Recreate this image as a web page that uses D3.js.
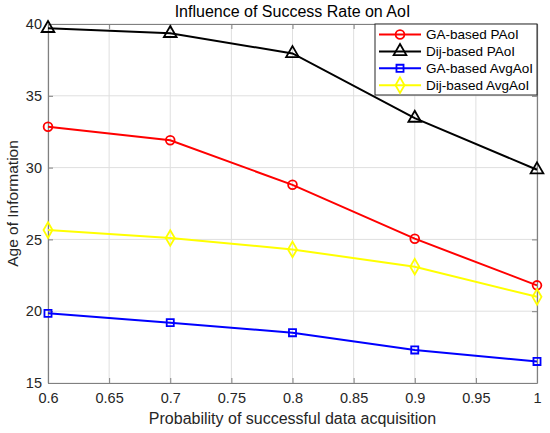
<!DOCTYPE html>
<html>
<head>
<meta charset="utf-8">
<script src="https://cdn.jsdelivr.net/npm/d3@7"></script>
<style>
  body { margin: 0; background: #fff; }
  svg { font-family: "Liberation Sans", Arial, sans-serif; }
</style>
</head>
<body>
<svg id="chart" width="550" height="433"></svg>
<script>
// data
var successRate = [0.6, 0.7, 0.8, 0.9, 1.0];
var gaPAoI   = [32.85, 31.9, 28.8, 25.05, 21.8];
var dijPAoI  = [39.7, 39.35, 37.95, 33.45, 29.85];
var gaAvgAoI = [19.85, 19.2, 18.5, 17.3, 16.5];
var dijAvgAoI = [25.65, 25.1, 24.3, 23.1, 21.0];

var seriesNames = ["GA-based PAoI", "Dij-based PAoI", "GA-based AvgAoI", "Dij-based AvgAoI"];
var xTicks = [0.6, 0.65, 0.7, 0.75, 0.8, 0.85, 0.9, 0.95, 1];
var yTicks = [15, 20, 25, 30, 35, 40];

// layout
var margin = {top: 24, right: 13, bottom: 50, left: 48},
    width = 550 - margin.left - margin.right,
    height = 433 - margin.top - margin.bottom;

var series = [
  {name: seriesNames[0], values: gaPAoI,   color: "#ff0000", marker: "circle"},
  {name: seriesNames[1], values: dijPAoI,  color: "#000000", marker: "triangle"},
  {name: seriesNames[2], values: gaAvgAoI, color: "#0000ff", marker: "square"},
  {name: seriesNames[3], values: dijAvgAoI, color: "#ffff00", marker: "diamond"}
];

var svg = d3.select("#chart");
var g = svg.append("g").attr("transform", "translate(" + margin.left + "," + margin.top + ")");

var x = d3.scaleLinear().domain([0.6, 1]).range([0, width]);
var y = d3.scaleLinear().domain([15, 40]).range([height, 0]);

// grid
g.append("g").selectAll("line").data(xTicks).join("line")
  .attr("x1", d => x(d)).attr("x2", d => x(d))
  .attr("y1", 0).attr("y2", height)
  .attr("stroke", "#dfdfdf").attr("stroke-width", 1);
g.append("g").selectAll("line").data(yTicks).join("line")
  .attr("y1", d => y(d)).attr("y2", d => y(d))
  .attr("x1", 0).attr("x2", width)
  .attr("stroke", "#dfdfdf").attr("stroke-width", 1);

// axes
var axisColor = "#262626";
var xAxis = g.append("g").attr("transform", "translate(0," + height + ")")
  .call(d3.axisBottom(x).tickValues(xTicks).tickSizeInner(-5).tickSizeOuter(0).tickPadding(10)
    .tickFormat(d => d3.format("")(+d.toFixed(2))));
var yAxis = g.append("g")
  .call(d3.axisLeft(y).tickValues(yTicks).tickSizeInner(-5).tickSizeOuter(0).tickPadding(6));
var xTop = g.append("g")
  .call(d3.axisTop(x).tickValues(xTicks).tickSizeInner(-5).tickSizeOuter(0).tickFormat(""));
var yRight = g.append("g").attr("transform", "translate(" + width + ",0)")
  .call(d3.axisRight(y).tickValues(yTicks).tickSizeInner(-5).tickSizeOuter(0).tickFormat(""));

[xAxis, yAxis, xTop, yRight].forEach(function(a) {
  a.select(".domain").attr("stroke", "#808080").attr("stroke-width", 1.2);
  a.selectAll(".tick line").attr("stroke", "#808080");
  a.selectAll(".tick text").attr("fill", axisColor).style("font-size", "14.5px")
    .style("font-family", "Liberation Sans, Arial, sans-serif");
});

// lines
var line = d3.line().x((d, i) => x(successRate[i])).y(d => y(d));
var sym = {
  circle: d3.symbol().type(d3.symbolCircle).size(60),
  triangle: d3.symbol().type(d3.symbolTriangle).size(70),
  square: d3.symbol().type(d3.symbolSquare).size(50),
  diamond: d3.symbol().type(d3.symbolDiamond).size(70)
};

series.forEach(function(s) {
  g.append("path").datum(s.values)
    .attr("d", line)
    .attr("fill", "none").attr("stroke", s.color).attr("stroke-width", 2);
  g.append("g").selectAll("path").data(s.values).join("path")
    .attr("transform", (d, i) => "translate(" + x(successRate[i]) + "," + y(d) + ")")
    .attr("d", sym[s.marker]())
    .attr("fill", "none").attr("stroke", s.color).attr("stroke-width", 1.8);
});

// legend
var legW = 162, legH = 71;
var leg = g.append("g").attr("transform", "translate(" + (width - legW) + ",0)");
leg.append("rect").attr("width", legW).attr("height", legH)
  .attr("fill", "#fff").attr("stroke", "#262626").attr("stroke-width", 1);
series.forEach(function(s, i) {
  var yy = 10.5 + i * 16.9;
  var row = leg.append("g").attr("transform", "translate(0," + yy + ")");
  row.append("line").attr("x1", 4).attr("x2", 46).attr("stroke", s.color).attr("stroke-width", 2);
  row.append("path").attr("transform", "translate(25,0)").attr("d", sym[s.marker]())
    .attr("fill", "none").attr("stroke", s.color).attr("stroke-width", 1.8);
  row.append("text").attr("x", 51).attr("y", 4.5).text(s.name)
    .attr("fill", "#000").style("font-size", "13.5px");
});

// title and axis labels
svg.append("text").attr("x", margin.left + width / 2).attr("y", 17)
  .attr("text-anchor", "middle").style("font-size", "16px").attr("fill", "#000")
  .text("Influence of Success Rate on AoI");
svg.append("text").attr("x", margin.left + width / 2).attr("y", 424)
  .attr("text-anchor", "middle").style("font-size", "16px").attr("fill", axisColor)
  .text("Probability of successful data acquisition");
svg.append("text").attr("transform", "translate(18," + (margin.top + height / 2) + ") rotate(-90)")
  .attr("text-anchor", "middle").style("font-size", "15.5px").attr("fill", axisColor)
  .text("Age of Information");
</script>
</body>
</html>
